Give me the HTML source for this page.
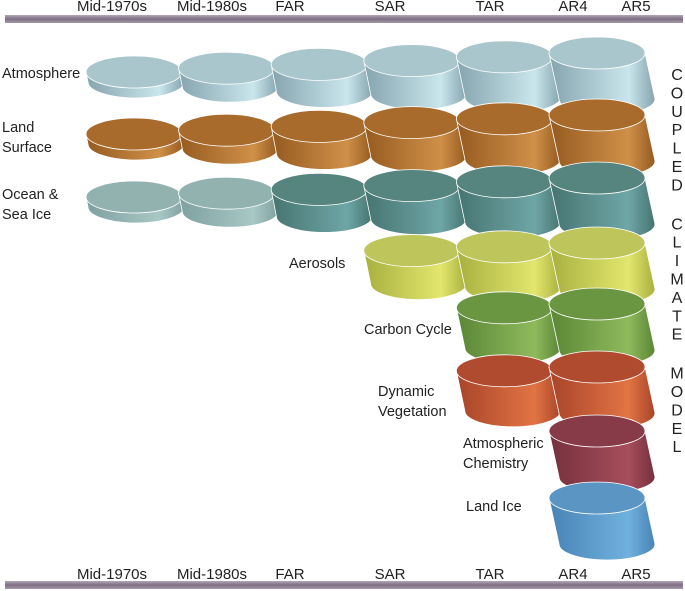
<!DOCTYPE html>
<html><head><meta charset="utf-8">
<style>
body{margin:0;background:#fff;}
svg{display:block;font-family:"Liberation Sans",Arial,sans-serif;}
</style></head>
<body>
<svg id="chart" width="685" height="591" viewBox="0 0 685 591">
<defs>
<linearGradient id="barg" x1="0" y1="0" x2="0" y2="1">
<stop offset="0" stop-color="#b3a8b8"/><stop offset="0.5" stop-color="#7e6f84"/><stop offset="1" stop-color="#a699ab"/>
</linearGradient>
</defs>
<rect x="5" y="15" width="678" height="8" fill="url(#barg)"/>
<rect x="5" y="581" width="678" height="8" fill="url(#barg)"/>
<g id="marks"></g>
<g id="labels" font-size="14" fill="#222"></g>
</svg>
<script>
const periods = ["Mid-1970s","Mid-1980s","FAR","SAR","TAR","AR4","AR5"];
const periodLabelX = [112,212,290,390,490,573,636];
const components = ["Atmosphere","Land Surface","Ocean & Sea Ice","Aerosols","Carbon Cycle","Dynamic Vegetation","Atmospheric Chemistry","Land Ice"];
// first column index where each component appears
const componentStart = [0,0,0,3,4,4,5,5];
// cylinder thickness per column
const columnThickness = [10,18,27,33,40,46];
const oceanEarlyGrey = [true,true,false,false,false,false];

const svgNS="http://www.w3.org/2000/svg";
const colX = c => 134 + c*92.6;
const colTop = c => 72 - c*3.8;
const rowOffset = r => [0,62,125,190,251,314,378,445][r];
const shift = c => 2 + c*1.6;
const RX=48, RY=16;

const palette = [
 {top:"#a9c6cd",s1:"#86a4ae",s2:"#c9e6ec"},
 {top:"#a96b2c",s1:"#955a20",s2:"#cf9048"},
 {top:"#56847e",s1:"#467470",s2:"#6ea6a6"},
 {top:"#bec55a",s1:"#a8b03e",s2:"#e2e66e"},
 {top:"#6b9641",s1:"#5a8636",s2:"#8fba5c"},
 {top:"#b04b30",s1:"#a8442a",s2:"#e27444"},
 {top:"#873a47",s1:"#74303c",s2:"#a84e5c"},
 {top:"#5b95c4",s1:"#4884b6",s2:"#70b0de"}];
const greyOcean={top:"#92b2b0",s1:"#7ea09e",s2:"#a8c8c6"};

const defs=document.querySelector("defs");
const marks=document.getElementById("marks");
let gid=0;
components.forEach((comp,r)=>{
  for(let c=componentStart[r]; c<columnThickness.length; c++){
    let p = palette[r];
    if(r===2 && oceanEarlyGrey[c]) p=greyOcean;
    const cx=colX(c), cy=colTop(c)+rowOffset(r), h=columnThickness[c], s=shift(c);
    const g=document.createElementNS(svgNS,"linearGradient");
    g.setAttribute("id","g"+gid);
    g.innerHTML=`<stop offset="0" stop-color="${p.s1}"/><stop offset="0.75" stop-color="${p.s2}"/><stop offset="1" stop-color="${p.s1}"/>`;
    defs.appendChild(g);
    const grp=document.createElementNS(svgNS,"g");
    
    
    const side=document.createElementNS(svgNS,"path");
    side.setAttribute("d",`M${cx-RX},${cy} L${cx-RX+s},${cy+h} A${RX},${RY} 0 0 0 ${cx+RX+s},${cy+h} L${cx+RX},${cy} Z`);
    side.setAttribute("fill","url(#g"+gid+")");
    side.setAttribute("stroke","#fff");side.setAttribute("stroke-width","0.8");
    
    
    const top=document.createElementNS(svgNS,"ellipse");
    top.setAttribute("cx",cx);top.setAttribute("cy",cy);top.setAttribute("rx",RX);top.setAttribute("ry",RY);
    top.setAttribute("fill",p.top);top.setAttribute("stroke","#fff");top.setAttribute("stroke-width","0.8");
    
    
    grp.appendChild(side);grp.appendChild(top);marks.appendChild(grp);
    gid++;
  }
});

const labels=document.getElementById("labels");
function txt(x,y,t,name,anchor,size){
  const e=document.createElementNS(svgNS,"text");
  e.setAttribute("x",x);e.setAttribute("y",y);e.textContent=t;
  if(anchor)e.setAttribute("text-anchor",anchor);
  if(size)e.setAttribute("font-size",size);
  
  
  labels.appendChild(e);
}
periods.forEach((p,i)=>{
  txt(periodLabelX[i],11,p,"period-label-top","middle",15);
  txt(periodLabelX[i],579,p,"period-label-bottom","middle",15);
});
const compLabels=[[2,78,["Atmosphere"]],[2,132,["Land","Surface"]],[2,199,["Ocean &","Sea Ice"]],[289,268,["Aerosols"]],[364,334,["Carbon Cycle"]],[378,396,["Dynamic","Vegetation"]],[463,448,["Atmospheric","Chemistry"]],[466,511,["Land Ice"]]];
compLabels.forEach(([x,y,lines])=>{
  lines.forEach((l,j)=>txt(x,y+j*20,l,"component-label","start",14.5));
});
const vt="COUPLED CLIMATE MODEL";
let y=80;
for(const ch of vt){
  if(ch===" "){y+=20.5;continue;}
  txt(677,y,ch,"coupled-climate-model-letter","middle",16);
  y+=18.4;
}
</script>
</body></html>
